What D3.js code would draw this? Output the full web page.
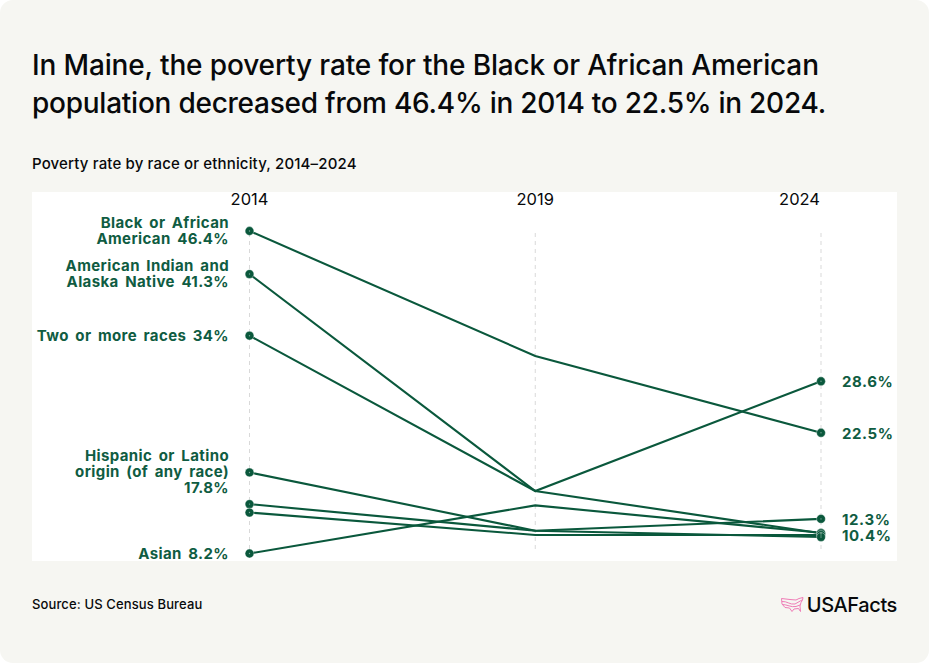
<!DOCTYPE html>
<html>
<head>
<meta charset="utf-8">
<script src="https://cdn.jsdelivr.net/npm/d3@7/dist/d3.min.js"></script>
<style>
html,body{margin:0;padding:0;background:#fff;}
svg{display:block;}
text{font-family:Inter,"Noto Sans",sans-serif;}
</style>
</head>
<body>
<svg id="chart" width="929" height="663"></svg>
<script>
const years = [2014, 2019, 2024];
const blackAfricanAmerican = [46.4, 31.6, 22.5];
const americanIndianAlaska = [41.3, 15.6, 10.6];
const twoOrMore = [34, 15.6, 28.6];
const hispanicLatino = [17.8, 10.9, 10.15];
const whiteNonHispanic = [14.05, 10.9, 12.3];
const white = [13.05, 10.4, 10.4];
const asian = [8.2, 13.9, 10.65];
const seriesValues = [blackAfricanAmerican, americanIndianAlaska, twoOrMore, hispanicLatino, whiteNonHispanic, white, asian];

const titleLines = ["In Maine, the poverty rate for the Black or African American", "population decreased from 46.4% in 2014 to 22.5% in 2024."];
const subtitle = "Poverty rate by race or ethnicity, 2014\u20132024";
const source = "Source: US Census Bureau";
const leftLabels = [
  {value: 46.4, lines: ["Black or African", "American 46.4%"]},
  {value: 41.3, lines: ["American Indian and", "Alaska Native 41.3%"]},
  {value: 34, lines: ["Two or more races 34%"]},
  {value: 17.8, lines: ["Hispanic or Latino", "origin (of any race)", "17.8%"]},
  {value: 8.2, lines: ["Asian 8.2%"]}
];
const rightLabels = [28.6, 22.5, 12.3, 10.4];

const GREEN = "#0a583c", LABEL = "#0f5c42";
const svg = d3.select("#chart");

// card and plot panel
svg.append("rect").attr("width", 929).attr("height", 663).attr("rx", 13).attr("fill", "#f6f6f2");
svg.append("rect").attr("x", 32).attr("y", 192).attr("width", 865).attr("height", 369).attr("fill", "#fff");

// heading block
svg.append("g").selectAll("text").data(titleLines).join("text")
  .attr("x", 32).attr("y", (d, i) => 75 + i * 38)
  .attr("font-size", 28).attr("font-weight", 530).attr("letter-spacing", (d, i) => i ? -0.25 : -0.14).attr("fill", "#08090b")
  .text(d => d);
svg.append("text").attr("x", 32).attr("y", 169).attr("font-size", 15).attr("font-weight", 500)
  .attr("letter-spacing", 0.15).attr("fill", "#08090b").text(subtitle);

const x = d3.scalePoint().domain(years).range([249.5, 821]);
const y = d3.scaleLinear().domain([46.4, 8.2]).range([231, 553.5]);

// dashed year guides
svg.append("g").selectAll("line").data(years).join("line")
  .attr("x1", d => x(d)).attr("x2", d => x(d)).attr("y1", 233).attr("y2", 552)
  .attr("stroke", "#d9d9d9").attr("stroke-width", 1).attr("stroke-dasharray", "4 4");

// year headings
const yearAnchor = ["middle", "middle", "end"];
const yearX = [x(2014), x(2019), 820];
svg.append("g").selectAll("text").data(years).join("text")
  .attr("x", (d, i) => yearX[i]).attr("y", 205)
  .attr("text-anchor", (d, i) => yearAnchor[i])
  .attr("font-size", 16.5).attr("letter-spacing", 0).attr("fill", "#08090b").text(d => d);

// series lines and points
const line = d3.line().x((d, i) => x(years[i])).y(d => y(d));
svg.append("g").selectAll("path").data(seriesValues).join("path")
  .attr("d", line).attr("fill", "none").attr("stroke", GREEN).attr("stroke-width", 2.1);
const points = seriesValues.flatMap(s => [{year: years[0], v: s[0]}, {year: years[2], v: s[2]}])
  .sort((a, b) => b.v - a.v);
const pointGroup = svg.append("g");
pointGroup.selectAll("circle.dot").data(points).join("circle").attr("class", "dot")
  .attr("cx", d => x(d.year)).attr("cy", d => y(d.v)).attr("r", 4.4)
  .attr("fill", GREEN).attr("stroke", "#fff").attr("stroke-opacity", 0.6).attr("stroke-width", 0.6);
pointGroup.selectAll("circle.core").data(points).join("circle").attr("class", "core")
  .attr("cx", d => x(d.year)).attr("cy", d => y(d.v)).attr("r", 0.7).attr("fill", "#7fa898");

// left labels, centred on their 2014 points
const leftGroup = svg.append("g").attr("font-size", 15).attr("font-weight", 650)
  .attr("letter-spacing", 0.4).attr("word-spacing", 2.5).attr("fill", LABEL).attr("text-anchor", "end");
leftLabels.forEach(l => {
  const lh = 16, n = l.lines.length;
  const top = y(l.value) - (n - 1) * lh / 2;
  leftGroup.append("g").selectAll("text").data(l.lines).join("text")
    .attr("x", 229).attr("y", (d, i) => top + i * lh + 5).text(d => d);
});

// right labels
svg.append("g").attr("font-size", 15).attr("font-weight", 650).attr("letter-spacing", 0.6).attr("fill", LABEL)
  .selectAll("text").data(rightLabels).join("text")
  .attr("x", 842).attr("y", d => y(d) + 6).text(d => d + "%");

// footer
svg.append("text").attr("x", 32).attr("y", 609).attr("font-size", 13).attr("font-weight", 500)
  .attr("letter-spacing", 0.13).attr("fill", "#08090b").text(source);

// USAFacts mark
const logo = svg.append("g").attr("transform", "translate(781,597)").attr("fill", "none")
  .attr("stroke", "#ef7cb6").attr("stroke-width", 1).attr("stroke-linejoin", "round");
logo.append("path").attr("d", "M0.5 1.5 L9 2.5 L15 3 L18 1.5 L22 0.5 L21.5 3 L20 5.5 L19 9 L19.5 14.5 L17.5 11.5 L13 12 L11 14.5 L8.5 11 L4 10.5 L1 7 Z");
logo.append("path").attr("d", "M1 4.5 C6 4 9 8 14 7 L21 3 M1.5 7.5 C6 7.5 10 10.5 15 9.5 L19 8");
svg.append("text").attr("x", 897).attr("y", 612).attr("text-anchor", "end")
  .attr("font-size", 20).attr("font-weight", 500).attr("letter-spacing", -0.4).attr("fill", "#08090b").text("USAFacts");
</script>
</body>
</html>
